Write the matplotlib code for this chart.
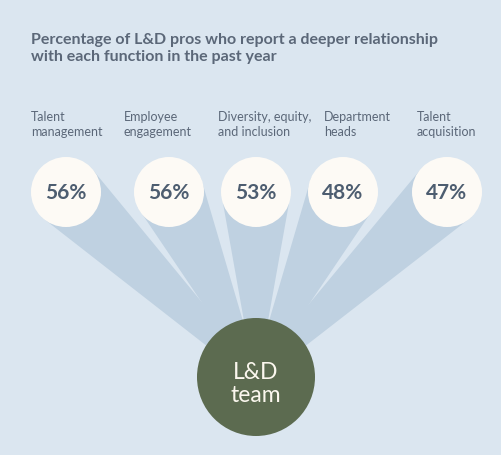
import numpy as np
import matplotlib.pyplot as plt
from matplotlib.patches import Circle, Polygon

# data
functions = ["Talent\nmanagement", "Employee\nengagement", "Diversity, equity,\nand inclusion",
             "Department\nheads", "Talent\nacquisition"]
shares = [56, 56, 53, 48, 47]
title = "Percentage of L&D pros who report a deeper relationship\nwith each function in the past year"
hub_label = "L&D\nteam"

# layout (pixel units)
W, H = 501, 455
circle_x = [66, 169, 256, 343, 447]
label_x = [31, 124, 218, 324, 417]
circle_y = 192
small_r = 35
hub = np.array([256.0, 377.0])
hub_r = 59
beam_half = 12

BG = "#dbe6f0"
BEAM = "#bfd1e1"
CREAM = "#fdfaf5"
OLIVE = "#5c6b50"
SLATE = "#4d5d70"
FONT = ["Lato", "DejaVu Sans"]

fig = plt.figure(figsize=(W / 100, H / 100), dpi=100, facecolor=BG)
ax = fig.add_axes([0, 0, 1, 1])
ax.set_xlim(0, W)
ax.set_ylim(H, 0)
ax.set_aspect("equal")
ax.axis("off")
ax.set_facecolor(BG)

fig.text(31 / W, 1 - 33 / H, title, ha="left", va="top", fontsize=11.5,
         color="#5b6778", family=FONT, weight="bold", linespacing=1.3)

for x, lx, lab, val in zip(circle_x, label_x, functions, shares):
    c = np.array([x, circle_y], dtype=float)
    d = c - hub
    d /= np.hypot(*d)
    n = np.array([-d[1], d[0]])
    end = hub + hub_r * 0.95 * d
    pts = [c + small_r * n, c - small_r * n, end - beam_half * n, end + beam_half * n]
    ax.add_patch(Polygon(pts, closed=True, facecolor=BEAM, edgecolor="none", zorder=1))
    ax.add_patch(Circle((x, circle_y), small_r, facecolor=CREAM, edgecolor="none", zorder=2))
    ax.text(x, circle_y + 1, f"{val}%", ha="center", va="center", fontsize=15,
            color=SLATE, family=FONT, weight="bold", zorder=3)
    ax.text(lx, 111, lab, ha="left", va="top", fontsize=9, color="#5b6778",
            family=FONT, linespacing=1.3)

ax.add_patch(Circle(hub, hub_r, facecolor=OLIVE, edgecolor="none", zorder=4))
ax.text(hub[0], hub[1] + 7, hub_label, ha="center", va="center", fontsize=16.5,
        color="#fbf7ee", family=FONT, linespacing=1.15, zorder=5)

fig.savefig("out.png", dpi=100, facecolor=BG)
